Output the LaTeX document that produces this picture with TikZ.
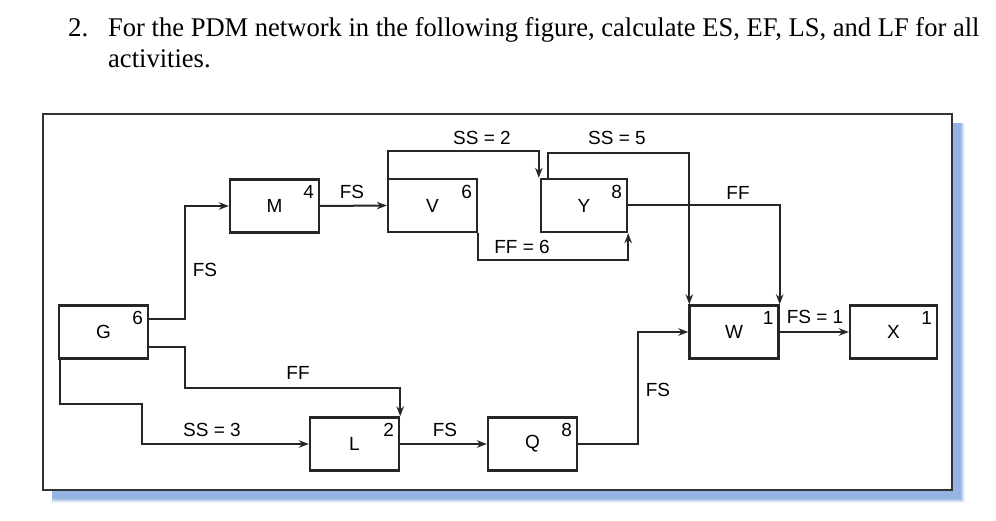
\documentclass[tikz,border=0pt]{standalone}
\usepackage{fontspec}
\setmainfont{Liberation Serif}
\newfontfamily\diagfont{Liberation Sans}
\usetikzlibrary{arrows.meta,calc}
\definecolor{framegray}{gray}{0.2}
\definecolor{shadowblue}{rgb}{0.55,0.68,0.88}
\tikzset{
  act/.style={draw=black!85, line width=2.4pt, fill=white, minimum width=89pt, minimum height=53pt, inner sep=0pt, font=\diagfont\fontsize{19}{22}\selectfont},
  dur/.style={anchor=north east, inner sep=0pt, font=\diagfont\fontsize{19}{22}\selectfont},
  lab/.style={inner sep=0pt, font=\diagfont\fontsize{19}{22}\selectfont},
  link/.style={draw=black!85, line width=2pt},
  arr/.style={link, -{Stealth[length=10pt,width=7.5pt]}},
  ttl/.style={anchor=base west, inner sep=0pt, font=\fontsize{27}{31}\selectfont}
}
\begin{document}
\begin{tikzpicture}[x=1pt,y=-1pt]
\useasboundingbox (0,0) rectangle (996,521);
% title
\node[ttl] (num) at (68,37) {2.};
\node[ttl] (t1) at (108,37) {\scalebox{0.983}[1]{For the PDM network in the following figure, calculate ES, EF, LS, and LF for all}};
\node[ttl] (t2) at (108,68) {\scalebox{0.983}[1]{activities.}};
% frame with shadow
\foreach \o/\a in {13/0.12,12/0.2,11/0.3,10/0.45,9/0.7}{
  \fill[shadowblue, opacity=\a] (52,123) rectangle (952+\o,490+\o);
}
\draw[draw=framegray, line width=2.4pt, fill=white] (43,114) rectangle (952,490);
% activities
\node[act] (G) at (103.5,332) {G};
\node[act] (M) at (274.5,206) {M};
\node[act] (V) at (432.5,205.5) {V};
\node[act, minimum width=86pt] (Y) at (584,205.5) {Y};
\node[act] (W) at (734,332) {W};
\node[act, minimum width=87pt] (X) at (893.5,332) {X};
\node[act] (L) at (354.5,444) {L};
\node[act] (Q) at (532.5,444) {Q};
% durations
\node[dur] (dG) at ([xshift=-6pt,yshift=-7pt]G.north east) {6};
\node[dur] (dM) at ([xshift=-6pt,yshift=-7pt]M.north east) {4};
\node[dur] (dV) at ([xshift=-6pt,yshift=-7pt]V.north east) {6};
\node[dur] (dY) at ([xshift=-6pt,yshift=-7pt]Y.north east) {8};
\node[dur] (dW) at ([xshift=-6pt,yshift=-7pt]W.north east) {1};
\node[dur] (dX) at ([xshift=-6pt,yshift=-7pt]X.north east) {1};
\node[dur] (dL) at ([xshift=-6pt,yshift=-7pt]L.north east) {2};
\node[dur] (dQ) at ([xshift=-6pt,yshift=-7pt]Q.north east) {8};
% links
\draw[arr] ([yshift=13pt]G.east) -- ++(36,0) |- (M.west);
\draw[arr] (M.east) -- (V.west);
\draw[arr] ([xshift=1pt]V.north west) -- ++(0,-27) -| ([xshift=-1pt]Y.north west);
\draw[arr] (V.south east) -- ++(0,27) -| (Y.south east);
\draw[arr] ([xshift=8pt]Y.north west) -- ++(0,-25) -| ([xshift=1pt]W.north west);
\draw[arr] (Y.east) -| (W.north east);
\draw[arr] (W.east) -- (X.west);
\draw[arr] ([yshift=-15pt]G.east) -- ++(36,0) -- ++(0,41) -| (L.north east);
\draw[arr] ([xshift=2pt]G.south west) -- ++(0,44) -- ++(82,0) |- (L.west);
\draw[arr] (L.east) -- (Q.west);
\draw[arr] (Q.east) -- ++(60,0) |- (W.west);
% labels
\node[lab] (lGM) at (205,270) {FS};
\node[lab] (lMV) at (352,192) {FS};
\node[lab] (lVY1) at (482,138) {SS = 2};
\node[lab] (lVY2) at (522,247) {FF = 6};
\node[lab] (lYW1) at (617,138) {SS = 5};
\node[lab] (lYW2) at (738,193) {FF};
\node[lab] (lWX) at (815,317) {FS = 1};
\node[lab] (lGL1) at (298,373) {FF};
\node[lab] (lGL2) at (212,430) {SS = 3};
\node[lab] (lLQ) at (445,430) {FS};
\node[lab] (lQW) at (658,390) {FS};
\end{tikzpicture}
\end{document}
